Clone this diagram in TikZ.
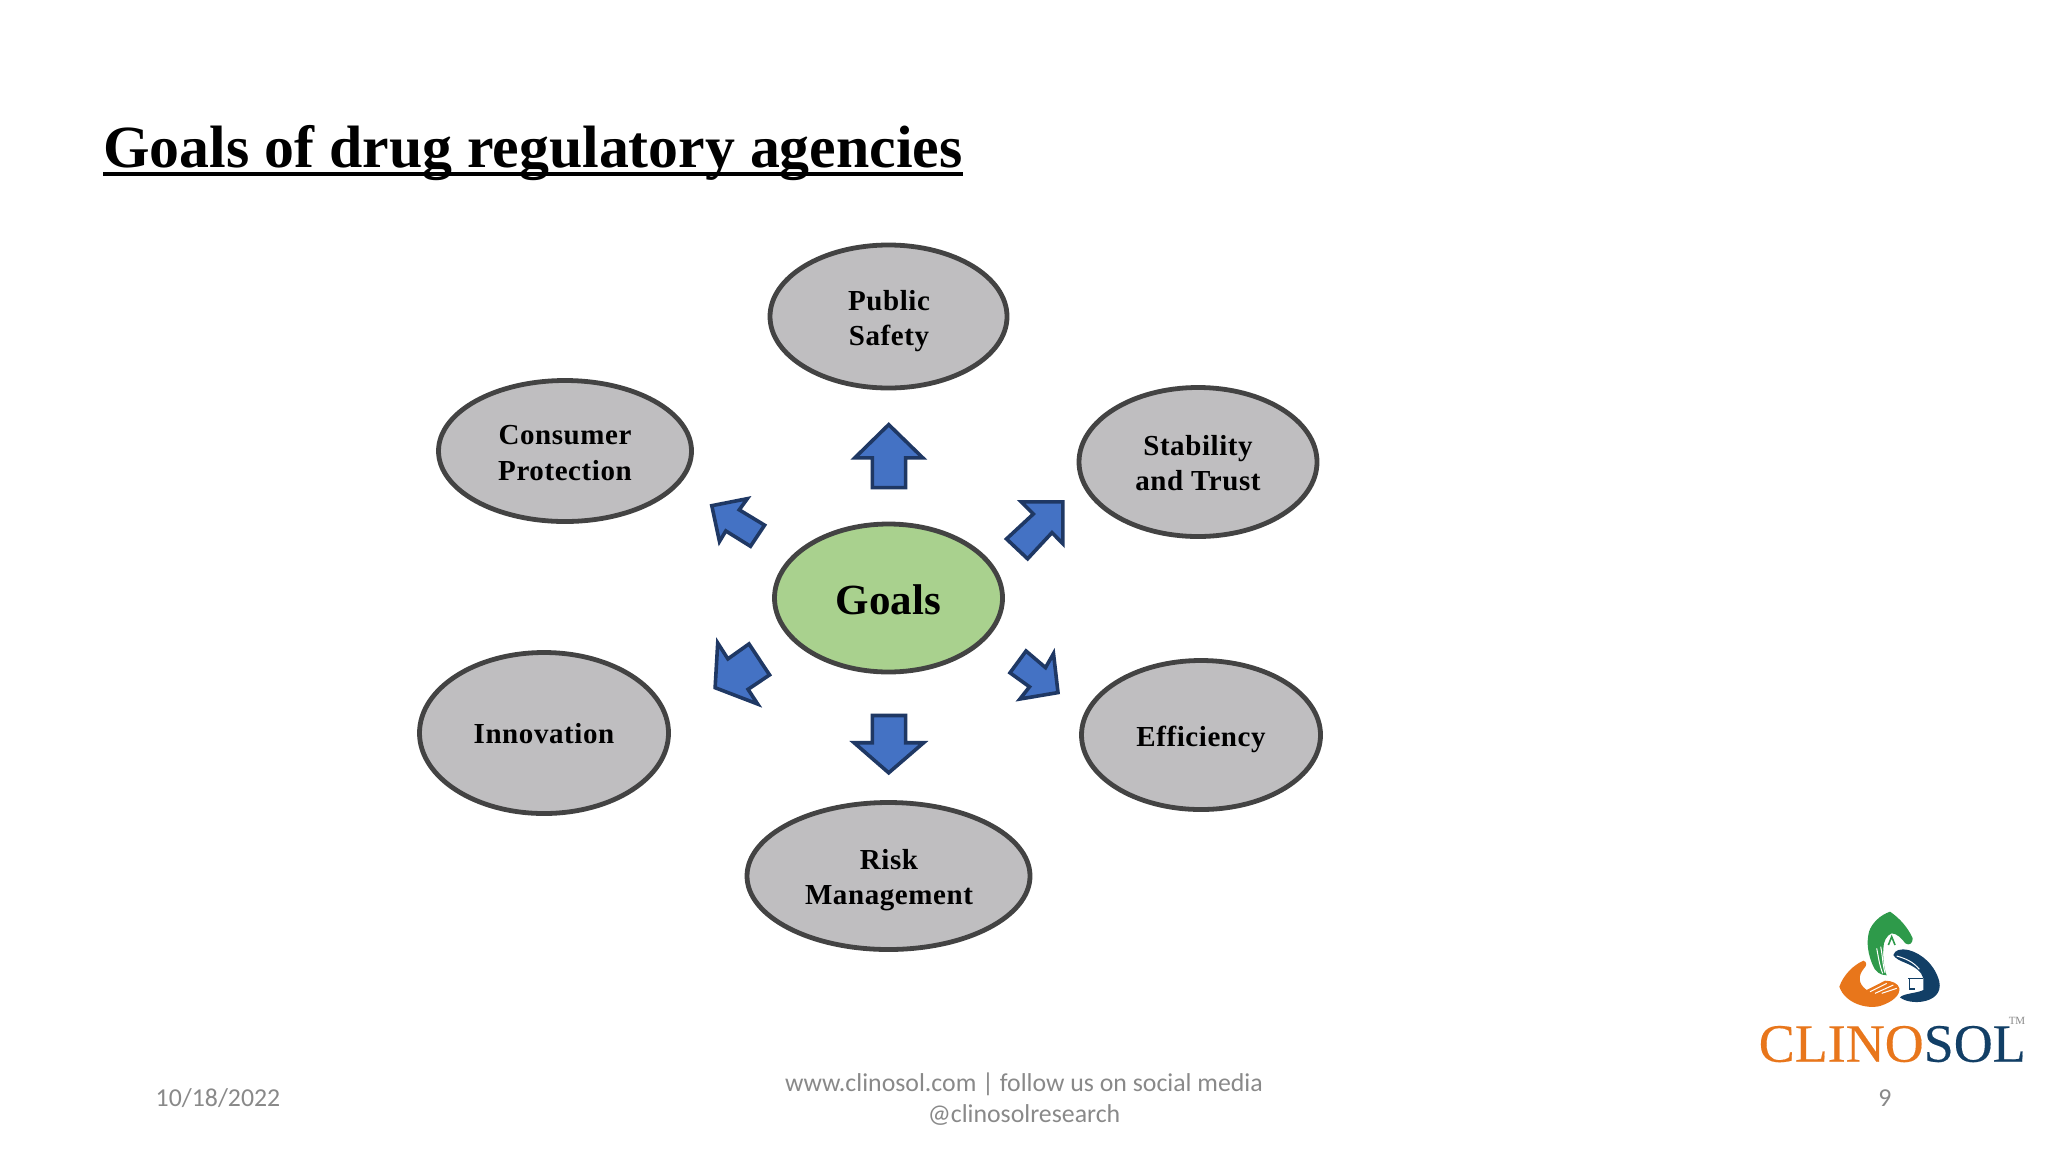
\documentclass[tikz,border=0pt]{standalone}
\usepackage{fontspec}
\setmainfont{Liberation Serif}
\newfontfamily\footfont{Carlito}
\newfontfamily\lblfont[LetterSpace=2]{Liberation Serif}
\newfontfamily\logofont[FakeBold=0.3]{Liberation Serif}
\usetikzlibrary{shapes.geometric}
\definecolor{ringc}{HTML}{434343}
\definecolor{grayfill}{HTML}{BFBEC0}
\definecolor{greenfill}{HTML}{A9D18E}
\definecolor{arrfill}{HTML}{4472C4}
\definecolor{arrline}{HTML}{1F3864}
\definecolor{footc}{HTML}{898989}
\definecolor{logoorange}{HTML}{E8761B}
\definecolor{logonavy}{HTML}{123F66}
\definecolor{logogreen}{HTML}{2E9A4A}
\tikzset{
  goalell/.style={ellipse,draw=ringc,line width=2.4pt,inner sep=0pt},
  goaltxt/.style={inner sep=0pt,align=center,font=\lblfont\bfseries\fontsize{14.5}{17.8}\selectfont},
  blockarrow/.style={fill=arrfill,draw=arrline,line width=1.8pt,line join=miter},
  foot/.style={text=footc,font=\footfont\fontsize{12.9}{15.5}\selectfont,align=center,inner sep=0pt}
}
\begin{document}
\begin{tikzpicture}[x=0.5pt,y=-0.5pt]
\useasboundingbox[fill=white] (0,0) rectangle (2048,1152);
% title
\node[anchor=base west,inner sep=0pt,font=\bfseries\fontsize{29.9}{34}\selectfont] (title) at (103,167) {Goals of drug regulatory agencies};
\draw[black,line width=1.6pt] (title.base west)++(0,7) -- ([yshift=-3.5pt]title.base east);
% ellipses
\node[goalell,fill=greenfill,minimum width=114pt,minimum height=74pt] (goals) at (888.5,598) {};
\node[goalell,fill=grayfill,minimum width=118.5pt,minimum height=71.5pt] (public) at (888.5,316.5) {};
\node[goalell,fill=grayfill,minimum width=119pt,minimum height=74.5pt] (stab) at (1198,462) {};
\node[goalell,fill=grayfill,minimum width=119.5pt,minimum height=74.5pt] (eff) at (1201,735) {};
\node[goalell,fill=grayfill,minimum width=141.5pt,minimum height=73.5pt] (risk) at (888.5,876) {};
\node[goalell,fill=grayfill,minimum width=124.5pt,minimum height=80.5pt] (innov) at (544,733) {};
\node[goalell,fill=grayfill,minimum width=126.5pt,minimum height=70.5pt] (cons) at (565,451) {};
% labels
\node[inner sep=0pt,font=\bfseries\fontsize{21.5}{24}\selectfont] (goalst) at (888.5,600) {Goals};
\node[goaltxt] (publict) at (889,321) {Public\\Safety};
\node[goaltxt] (stabt) at (1198,463) {Stability\\and Trust};
\node[goaltxt] (efft) at (1201,739) {Efficiency};
\node[goaltxt] (riskt) at (889,880) {Risk\\Management};
\node[goaltxt] (innovt) at (544,734) {Innovation};
\node[goaltxt] (const) at (565,453) {Consumer\\Protection};
% block arrows
\draw[blockarrow,scale around={0.96:(888.7,456)}] (888.7,423.3)--(924.3,458)--(906.3,458)--(906.3,489)--(871.7,489)--(871.7,458)--(853.3,458)--cycle;
\draw[blockarrow,scale around={0.96:(888.7,744)}] (871.7,714.3)--(906.3,714.3)--(906.3,742.7)--(925,742.7)--(888.7,774)--(852.7,742.7)--(871.7,742.7)--cycle;
\draw[blockarrow,scale around={0.96:(738,522)}] (710.7,505)--(747.7,497.7)--(739.3,509.3)--(765.7,525.3)--(751,547.3)--(725.3,531.3)--(718.7,542.3)--cycle;
\draw[blockarrow,scale around={0.96:(1035,530)}] (1064,500.7)--(1020.7,500.7)--(1033.3,513.3)--(1005.3,539.3)--(1027.3,560)--(1052.7,532.7)--(1064,544.3)--cycle;
\draw[blockarrow,scale around={0.96:(742,673)}] (716.7,641.7)--(727.3,658.3)--(749.3,642.7)--(770.7,675)--(748.3,690)--(758.3,705.3)--(714,688.3)--cycle;
\draw[blockarrow,scale around={0.96:(1034,675)}] (1059,693.3)--(1054.3,652.7)--(1046,667.3)--(1025.7,650)--(1009,672.7)--(1029.3,687.3)--(1019.3,700)--cycle;
% footer
\node[foot] (date) at (218,1098) {10/18/2022};
\node[foot] (site) at (1024,1099) {www.clinosol.com | follow us on social media\\@clinosolresearch};
\node[foot] (pg) at (1885,1098) {9};
% logo
\begin{scope}[shift={(1720,890)},x=0.16667pt,y=-0.16667pt]
\fill[logogreen] (510,65) .. controls (540,85) and (565,115) .. (578,145) .. controls (578,160) and (568,168) .. (556,160) .. controls (545,145) and (530,130) .. (515,130) .. controls (500,135) and (490,155) .. (490,175) .. controls (488,205) and (492,235) .. (500,256) .. controls (480,255) and (465,245) .. (458,225) .. controls (445,195) and (438,160) .. (447,125) .. controls (455,100) and (480,75) .. (510,65) -- cycle;
\draw[white,line width=0.5pt] (482,170) .. controls (488,200) and (488,225) .. (495,248);
\draw[white,line width=0.5pt] (470,175) .. controls (475,200) and (478,225) .. (488,250);
\draw[logogreen,line width=0.8pt] (505,165) -- (515,140) -- (525,165);
\fill[logonavy] (520,195) .. controls (525,180) and (540,175) .. (565,180) .. controls (605,190) and (645,225) .. (658,275) .. controls (665,310) and (640,330) .. (605,335) .. controls (585,338) and (555,335) .. (540,322) .. controls (550,310) and (590,310) .. (610,300) -- (610,265) .. controls (605,245) and (585,230) .. (555,218) .. controls (540,212) and (525,205) .. (520,195) -- cycle;
\draw[white,line width=0.5pt] (530,198) .. controls (555,205) and (580,215) .. (598,238);
\draw[logonavy,line width=0.6pt] (568,265) -- (568,297) -- (585,297) (565,265) -- (610,265);
\fill[logoorange] (358,290) .. controls (370,255) and (400,225) .. (430,212) .. controls (442,215) and (440,228) .. (432,235) .. controls (415,255) and (412,280) .. (440,300) -- (495,272) .. controls (515,272) and (535,280) .. (538,295) .. controls (540,315) and (520,335) .. (480,348) .. controls (440,358) and (375,340) .. (358,290) -- cycle;
\draw[white,line width=0.5pt] (450,305) -- (500,280) (465,310) -- (520,285) (485,310) -- (530,295);
\node[anchor=base west,inner sep=0pt,font=\logofont\fontsize{27}{32}\selectfont] (logotext) at (115,515) {\textcolor{logoorange}{CLINO}\textcolor{logonavy}{SOL}};
\node[anchor=base west,inner sep=0pt,text=footc,font=\fontsize{5.5}{6}\selectfont] (tm) at (865,402) {TM};
\end{scope}
\end{tikzpicture}
\end{document}
